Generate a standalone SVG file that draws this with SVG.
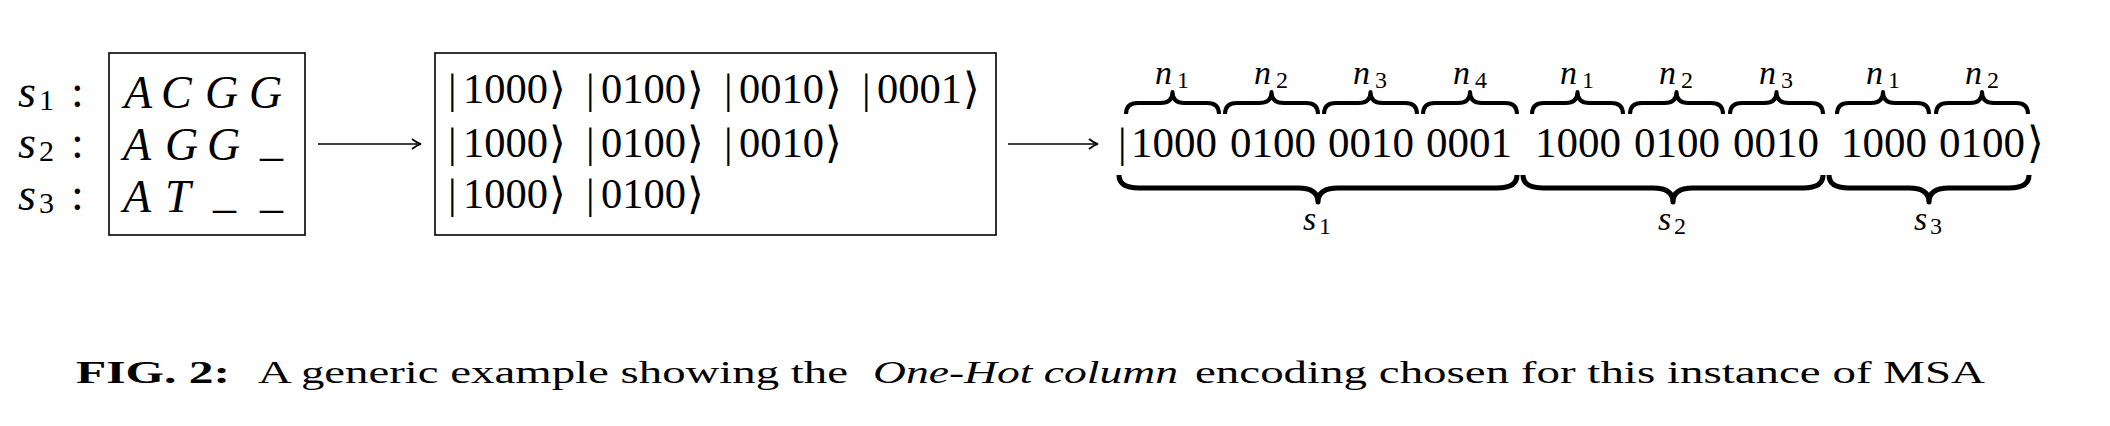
<svg xmlns="http://www.w3.org/2000/svg" width="2110" height="426" viewBox="0 0 2110 426">
<style>
.rm{font-family:"Liberation Serif","DejaVu Serif",serif;fill:#000}
.it{font-family:"Liberation Serif","DejaVu Serif",serif;font-style:italic;fill:#000}
.big{font-size:46px}
.dg{font-size:43px}
.sub{font-size:30px}
.lab{font-size:34px}
.lsub{font-size:24px}
.box{fill:none;stroke:#000;stroke-width:1.6}
.brT{fill:none;stroke:#000;stroke-width:4;stroke-linejoin:round}
.brB{fill:none;stroke:#000;stroke-width:5;stroke-linejoin:round}
.conn{fill:none;stroke:#000;stroke-width:1.6}
.cap{font-family:"Liberation Serif","DejaVu Serif",serif;font-size:32px;fill:#000}
</style>
<defs>
<marker id="ah" markerUnits="userSpaceOnUse" markerWidth="14" markerHeight="14" refX="12" refY="7" orient="auto">
<path d="M3,2 Q8,6 12,7 Q8,8 3,12" fill="none" stroke="#000" stroke-width="1.8"/>
</marker>
</defs>

<g id="labels">
<text class="it big" x="18" y="107">s</text><text class="rm sub" x="39" y="110">1</text><text class="rm big" x="71" y="107">:</text>
<text class="it big" x="18" y="158">s</text><text class="rm sub" x="39" y="161">2</text><text class="rm big" x="71" y="158">:</text>
<text class="it big" x="18" y="210">s</text><text class="rm sub" x="39" y="213">3</text><text class="rm big" x="71" y="210">:</text>
</g>

<g id="alignment">
<rect class="box" x="109" y="53" width="196" height="182"/>
<text class="it big" y="108"><tspan x="124">A</tspan><tspan x="161">C</tspan><tspan x="205">G</tspan><tspan x="249">G</tspan></text>
<text class="it big" y="160"><tspan x="123">A</tspan><tspan x="165">G</tspan><tspan x="207">G</tspan></text>
<text class="rm big" x="260" y="155">_</text>
<text class="it big" y="212"><tspan x="123">A</tspan><tspan x="165">T</tspan></text>
<text class="rm big" x="213" y="207">_</text><text class="rm big" x="260" y="207">_</text>
</g>

<g id="kets">
<rect class="box" x="435" y="53" width="561" height="182"/>
<g class="rm dg">
<text x="448" y="103">|</text><text x="463" y="103" textLength="85" lengthAdjust="spacingAndGlyphs">1000</text><text x="549" y="103">⟩</text>
<text x="586" y="103">|</text><text x="601" y="103" textLength="85" lengthAdjust="spacingAndGlyphs">0100</text><text x="687" y="103">⟩</text>
<text x="724" y="103">|</text><text x="739" y="103" textLength="85" lengthAdjust="spacingAndGlyphs">0010</text><text x="825" y="103">⟩</text>
<text x="862" y="103">|</text><text x="877" y="103" textLength="85" lengthAdjust="spacingAndGlyphs">0001</text><text x="963" y="103">⟩</text>

<text x="448" y="157">|</text><text x="463" y="157" textLength="85" lengthAdjust="spacingAndGlyphs">1000</text><text x="549" y="157">⟩</text>
<text x="586" y="157">|</text><text x="601" y="157" textLength="85" lengthAdjust="spacingAndGlyphs">0100</text><text x="687" y="157">⟩</text>
<text x="724" y="157">|</text><text x="739" y="157" textLength="85" lengthAdjust="spacingAndGlyphs">0010</text><text x="825" y="157">⟩</text>

<text x="448" y="208">|</text><text x="463" y="208" textLength="85" lengthAdjust="spacingAndGlyphs">1000</text><text x="549" y="208">⟩</text>
<text x="586" y="208">|</text><text x="601" y="208" textLength="85" lengthAdjust="spacingAndGlyphs">0100</text><text x="687" y="208">⟩</text>
</g>
</g>

<g id="encoding">
<g class="rm dg">
<text x="1118" y="157">|</text>
<text x="1131" y="157" textLength="86" lengthAdjust="spacingAndGlyphs">1000</text>
<text x="1230" y="157" textLength="86" lengthAdjust="spacingAndGlyphs">0100</text>
<text x="1328" y="157" textLength="86" lengthAdjust="spacingAndGlyphs">0010</text>
<text x="1426" y="157" textLength="86" lengthAdjust="spacingAndGlyphs">0001</text>
<text x="1535" y="157" textLength="86" lengthAdjust="spacingAndGlyphs">1000</text>
<text x="1634" y="157" textLength="86" lengthAdjust="spacingAndGlyphs">0100</text>
<text x="1733" y="157" textLength="86" lengthAdjust="spacingAndGlyphs">0010</text>
<text x="1841" y="157" textLength="86" lengthAdjust="spacingAndGlyphs">1000</text>
<text x="1939" y="157" textLength="86" lengthAdjust="spacingAndGlyphs">0100</text>
<text x="2027" y="157">⟩</text>
</g>
<g id="overbraces">
<path class="brT" d="M1126,114 Q1126,103 1138,103 L1160.5,103 Q1172.5,103 1172.5,92 Q1172.5,103 1184.5,103 L1207,103 Q1219,103 1219,114"/>
<path class="brT" d="M1225,114 Q1225,103 1237,103 L1259.5,103 Q1271.5,103 1271.5,92 Q1271.5,103 1283.5,103 L1306,103 Q1318,103 1318,114"/>
<path class="brT" d="M1324,114 Q1324,103 1336,103 L1358.5,103 Q1370.5,103 1370.5,92 Q1370.5,103 1382.5,103 L1405,103 Q1417,103 1417,114"/>
<path class="brT" d="M1423,114 Q1423,103 1435,103 L1458,103 Q1470,103 1470,92 Q1470,103 1482,103 L1505,103 Q1517,103 1517,114"/>
<path class="brT" d="M1532,114 Q1532,103 1544,103 L1565.5,103 Q1577.5,103 1577.5,92 Q1577.5,103 1589.5,103 L1611,103 Q1623,103 1623,114"/>
<path class="brT" d="M1630,114 Q1630,103 1642,103 L1664.5,103 Q1676.5,103 1676.5,92 Q1676.5,103 1688.5,103 L1711,103 Q1723,103 1723,114"/>
<path class="brT" d="M1730,114 Q1730,103 1742,103 L1764.5,103 Q1776.5,103 1776.5,92 Q1776.5,103 1788.5,103 L1811,103 Q1823,103 1823,114"/>
<path class="brT" d="M1837,114 Q1837,103 1849,103 L1871,103 Q1883,103 1883,92 Q1883,103 1895,103 L1917,103 Q1929,103 1929,114"/>
<path class="brT" d="M1936,114 Q1936,103 1948,103 L1970,103 Q1982,103 1982,92 Q1982,103 1994,103 L2016,103 Q2028,103 2028,114"/>
</g>
<g id="nlabels">
<text class="it lab" x="1155" y="84">n</text><text class="rm lsub" x="1177" y="88">1</text>
<text class="it lab" x="1254" y="84">n</text><text class="rm lsub" x="1276" y="88">2</text>
<text class="it lab" x="1353" y="84">n</text><text class="rm lsub" x="1375" y="88">3</text>
<text class="it lab" x="1453" y="84">n</text><text class="rm lsub" x="1475" y="88">4</text>
<text class="it lab" x="1560" y="84">n</text><text class="rm lsub" x="1582" y="88">1</text>
<text class="it lab" x="1659" y="84">n</text><text class="rm lsub" x="1681" y="88">2</text>
<text class="it lab" x="1759" y="84">n</text><text class="rm lsub" x="1781" y="88">3</text>
<text class="it lab" x="1866" y="84">n</text><text class="rm lsub" x="1888" y="88">1</text>
<text class="it lab" x="1965" y="84">n</text><text class="rm lsub" x="1987" y="88">2</text>
</g>
<g id="underbraces">
<path class="brB" d="M1119,175 Q1119,188 1139,188 L1298,188 Q1318,188 1318,202 Q1318,188 1338,188 L1497,188 Q1517,188 1517,175"/>
<path class="brB" d="M1523,175 Q1523,188 1543,188 L1653,188 Q1673,188 1673,202 Q1673,188 1693,188 L1803,188 Q1823,188 1823,175"/>
<path class="brB" d="M1829,175 Q1829,188 1849,188 L1909,188 Q1929,188 1929,202 Q1929,188 1949,188 L2009,188 Q2029,188 2029,175"/>
</g>
<g id="slabels">
<text class="it lab" x="1303" y="230">s</text><text class="rm lsub" x="1319" y="234">1</text>
<text class="it lab" x="1658" y="230">s</text><text class="rm lsub" x="1674" y="234">2</text>
<text class="it lab" x="1914" y="230">s</text><text class="rm lsub" x="1930" y="234">3</text>
</g>
</g>

<g id="connectors">
<line class="conn" x1="318" y1="144" x2="421" y2="144" marker-end="url(#ah)"/>
<line class="conn" x1="1008" y1="144" x2="1098" y2="144" marker-end="url(#ah)"/>
</g>

<g id="caption">
<text class="cap" x="76" y="383" font-weight="bold" textLength="154" lengthAdjust="spacingAndGlyphs">FIG. 2:</text>
<text class="cap" x="258" y="383" textLength="590" lengthAdjust="spacingAndGlyphs">A generic example showing the</text>
<text class="cap" x="873" y="383" font-style="italic" textLength="305" lengthAdjust="spacingAndGlyphs">One-Hot column</text>
<text class="cap" x="1195" y="383" textLength="790" lengthAdjust="spacingAndGlyphs">encoding chosen for this instance of MSA</text>
</g>
</svg>
